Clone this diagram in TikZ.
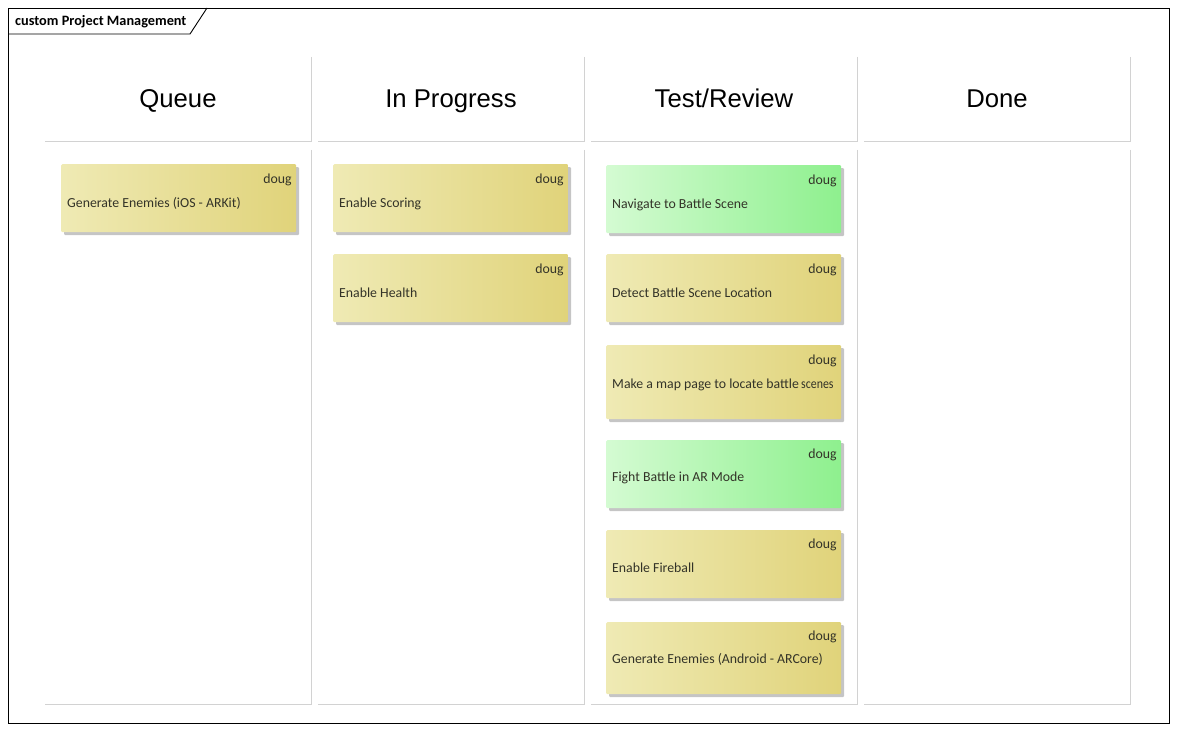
\documentclass[tikz,border=0pt]{standalone}
\usepackage{fontspec}
\setmainfont{Carlito}
\newfontfamily\headfont{Liberation Sans}
\usepackage{xcolor}
\usepackage{tikz}
\usetikzlibrary{positioning,shadows}

\definecolor{noteA}{HTML}{EFEAB4}
\definecolor{noteB}{HTML}{E0D37A}
\definecolor{doneA}{HTML}{D4FBD2}
\definecolor{doneB}{HTML}{8EF08E}
\definecolor{inktext}{HTML}{333328}
\definecolor{lanegray}{HTML}{D2D2D2}

\begin{document}
\begin{tikzpicture}[x=1pt, y=-1pt,
    lane/.style={rectangle, inner sep=0pt, minimum width=266pt},
    laneline/.style={draw=lanegray, line width=1.3pt},
    headtext/.style={font=\headfont\fontsize{25.7}{30}\selectfont, text height=20pt, text depth=4pt},
    card/.style={rectangle, rounded corners=1.2pt, anchor=north west, inner sep=0pt,
        minimum width=235pt, minimum height=68pt,
        drop shadow={shadow xshift=3pt, shadow yshift=-3pt, fill=black!25, opacity=0.9}},
    yellowcard/.style={card, left color=noteA, right color=noteB},
    greencard/.style={card, left color=doneA, right color=doneB},
    owner/.style={anchor=base east, inner sep=0pt, text=inktext, font=\fontsize{13.8}{16}\selectfont},
    task/.style={anchor=base west, inner sep=0pt, text=inktext, font=\fontsize{13.8}{16}\selectfont}]
    \useasboundingbox (0,0) rectangle (1178,731);

    % Diagram frame and name tab
    \draw[line width=0.9pt] (8,8) rectangle (1169,723);
    \draw[line width=0.9pt] (8,34) -- (190,34) -- (207,8);
    \node[anchor=base west, inner sep=0pt, font=\bfseries\fontsize{14.3}{16}\selectfont] (title) at (15,25) {custom Project Management};

    % Lane headers
    \node[lane, minimum height=84pt, headtext] (queuehead) at (178,99) {Queue};
    \node[lane, minimum height=84pt, headtext] (proghead) at (451,99) {In Progress};
    \node[lane, minimum height=84pt, headtext] (testhead) at (724,99) {Test/Review};
    \node[lane, minimum height=84pt, headtext] (donehead) at (997,99) {Done};

    % Lane bodies
    \node[lane, minimum height=554pt] (queuebody) at (178,427) {};
    \node[lane, minimum height=554pt] (progbody) at (451,427) {};
    \node[lane, minimum height=554pt] (testbody) at (724,427) {};
    \node[lane, minimum height=554pt] (donebody) at (997,427) {};

    % Lane borders (right and bottom only)
    \foreach \l in {queuehead,proghead,testhead,donehead,queuebody,progbody,testbody,donebody}
        \draw[laneline] (\l.north east) -- (\l.south east) -- (\l.south west);

    % Queue
    \node[yellowcard] (gen ios) at (61,164) {};
    \node[owner] (gen ios owner) at ([xshift=-4.5pt, yshift=-19.5pt]gen ios.north east) {doug};
    \node[task] (gen ios task) at ([xshift=6pt, yshift=-43pt]gen ios.north west) {Generate Enemies (iOS - ARKit)};

    % In Progress
    \node[yellowcard] (scoring) at (333,164) {};
    \node[owner] (scoring owner) at ([xshift=-4.5pt, yshift=-19.5pt]scoring.north east) {doug};
    \node[task] (scoring task) at ([xshift=6pt, yshift=-43pt]scoring.north west) {Enable Scoring};

    \node[yellowcard] (health) at (333,254) {};
    \node[owner] (health owner) at ([xshift=-4.5pt, yshift=-19.5pt]health.north east) {doug};
    \node[task] (health task) at ([xshift=6pt, yshift=-43pt]health.north west) {Enable Health};

    % Test/Review
    \node[greencard] (navigate) at (606,165) {};
    \node[owner] (navigate owner) at ([xshift=-4.5pt, yshift=-19.5pt]navigate.north east) {doug};
    \node[task] (navigate task) at ([xshift=6pt, yshift=-43pt]navigate.north west) {Navigate to Battle Scene};

    \node[yellowcard] (detect) at (606,254) {};
    \node[owner] (detect owner) at ([xshift=-4.5pt, yshift=-19.5pt]detect.north east) {doug};
    \node[task] (detect task) at ([xshift=6pt, yshift=-43pt]detect.north west) {Detect Battle Scene Location};

    \node[yellowcard, minimum height=74pt] (mappage) at (606,345) {};
    \node[owner] (mappage owner) at ([xshift=-4.5pt, yshift=-19pt]mappage.north east) {doug};
    \node[task] (mappage task) at ([xshift=6pt, yshift=-43pt]mappage.north west) {Make a map page to locate battle\,\scalebox{0.86}[1]{scenes}};

    \node[greencard] (fight) at (606,440) {};
    \node[owner] (fight owner) at ([xshift=-4.5pt, yshift=-18.5pt]fight.north east) {doug};
    \node[task] (fight task) at ([xshift=6pt, yshift=-41.5pt]fight.north west) {Fight Battle in AR Mode};

    \node[yellowcard] (fireball) at (606,530) {};
    \node[owner] (fireball owner) at ([xshift=-4.5pt, yshift=-18.5pt]fireball.north east) {doug};
    \node[task] (fireball task) at ([xshift=6pt, yshift=-42.5pt]fireball.north west) {Enable Fireball};

    \node[yellowcard, minimum height=72pt] (gen android) at (606,622) {};
    \node[owner] (gen android owner) at ([xshift=-4.5pt, yshift=-18.5pt]gen android.north east) {doug};
    \node[task] (gen android task) at ([xshift=6pt, yshift=-41.5pt]gen android.north west) {Generate Enemies (Android - ARCore)};
\end{tikzpicture}
\end{document}
